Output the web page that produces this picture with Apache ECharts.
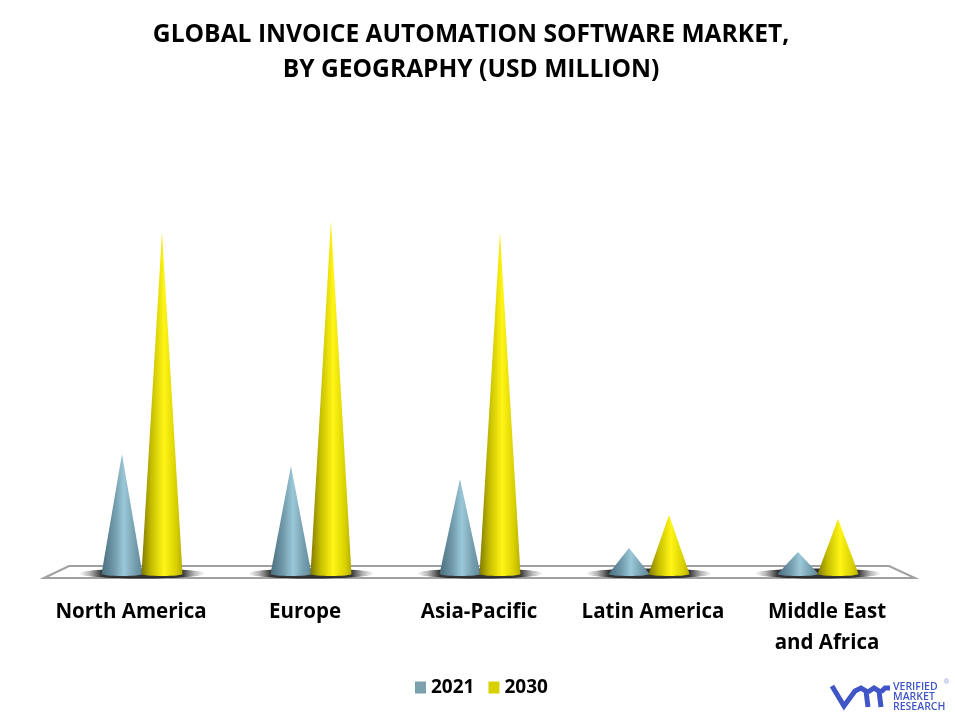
<!DOCTYPE html>
<html>
<head>
<meta charset="utf-8">
<title>Global Invoice Automation Software Market</title>
<script src="https://cdn.jsdelivr.net/npm/echarts@6/dist/echarts.min.js"></script>
<style>
html, body { margin: 0; padding: 0; background: #fff; }
#main { width: 955px; height: 718px; }
</style>
</head>
<body>
<div id="main"></div>
<script>
var categories = ['North America', 'Europe', 'Asia-Pacific', 'Latin America', 'Middle East\nand Africa'];
var values2021 = [120, 108, 95, 26, 22];
var values2030 = [342, 353, 342, 59, 55];

var myChart = echarts.init(document.getElementById('main'));

var FONT = '"Open Sans", "Noto Sans", sans-serif';
var CONE_OFFSET = 20;
var CONE_RADIUS = 20.5;

function coneFill(stops) {
    return new echarts.graphic.LinearGradient(0, 0, 1, 0, stops);
}
var blueFill = coneFill([
    { offset: 0, color: '#4a6e7e' },
    { offset: 0.3, color: '#6f98a8' },
    { offset: 0.55, color: '#9bc8d8' },
    { offset: 0.8, color: '#76a0b0' },
    { offset: 1, color: '#5f8797' }
]);
var yellowFill = coneFill([
    { offset: 0, color: '#7f7900' },
    { offset: 0.25, color: '#c8c000' },
    { offset: 0.55, color: '#fff516' },
    { offset: 0.85, color: '#d8d000' },
    { offset: 1, color: '#b5ad00' }
]);

// one cone: tip at the value, flat ellipse as base
function coneItem(offset, fill) {
    return function(params, api) {
        var base = api.coord([api.value(0), 0]);
        var tip = api.coord([api.value(0), api.value(1)]);
        var cx = base[0] + offset;
        var pts = [[cx, tip[1]]];
        for (var i = 0; i <= 16; i++) {
            var a = Math.PI * i / 16;
            pts.push([cx - CONE_RADIUS * Math.cos(a), base[1] + 2 * Math.sin(a)]);
        }
        return {
            type: 'polygon',
            shape: { points: pts },
            style: { fill: fill }
        };
    };
}

// soft shadow under each pair of cones
function shadowItem(params, api) {
    var base = api.coord([api.value(0), 0]);
    return {
        type: 'ellipse',
        shape: { cx: base[0], cy: base[1] - 0.5, rx: 63, ry: 5 },
        style: {
            fill: new echarts.graphic.LinearGradient(0, 0, 1, 0, [
                { offset: 0, color: 'rgba(60,60,60,0)' },
                { offset: 0.08, color: 'rgba(60,60,60,0.35)' },
                { offset: 0.18, color: 'rgba(30,30,30,0.9)' },
                { offset: 0.82, color: 'rgba(30,30,30,0.9)' },
                { offset: 0.92, color: 'rgba(60,60,60,0.35)' },
                { offset: 1, color: 'rgba(60,60,60,0)' }
            ])
        }
    };
}

// the flat floor, sized from the label grid
function floorItem(params) {
    var c = params.coordSys;
    var front = c.y + c.height;
    return {
        type: 'polygon',
        shape: {
            points: [
                [c.x, front],
                [c.x + 25, front - 12],
                [c.x + c.width - 25, front - 12],
                [c.x + c.width + 1, front]
            ]
        },
        style: { fill: '#fff', stroke: '#a0a0a0', lineWidth: 2 }
    };
}

var option = {
    backgroundColor: '#fff',
    animation: false,
    title: {
        text: 'GLOBAL INVOICE AUTOMATION SOFTWARE MARKET,\nBY GEOGRAPHY (USD MILLION)',
        left: 466,
        top: 12,
        textAlign: 'center',
        textStyle: {
            fontFamily: FONT,
            fontWeight: 'bold',
            fontSize: 24.6,
            lineHeight: 35,
            color: '#000'
        }
    },
    legend: {
        data: ['2021', '2030'],
        icon: 'rect',
        left: 410,
        top: 673,
        itemWidth: 11,
        itemHeight: 12,
        itemGap: 14,
        textStyle: {
            fontFamily: FONT,
            fontWeight: 'bold',
            fontSize: 19,
            color: '#000'
        }
    },
    grid: [
        { left: 57.5, width: 845, top: 174, height: 400 },
        { left: 44, width: 870, top: 174, height: 404 }
    ],
    xAxis: [{
        type: 'category',
        gridIndex: 0,
        data: categories,
        axisLine: { show: false },
        axisTick: { show: false },
        axisLabel: { show: false }
    }, {
        type: 'category',
        gridIndex: 1,
        data: categories,
        axisLine: { show: false },
        axisTick: { show: false },
        axisLabel: {
            interval: 0,
            margin: 19,
            fontFamily: FONT,
            fontWeight: 'bold',
            fontSize: 20.5,
            lineHeight: 31,
            color: '#000'
        }
    }],
    yAxis: [{
        type: 'value',
        gridIndex: 0,
        min: 0,
        max: 400,
        show: false
    }, {
        type: 'value',
        gridIndex: 1,
        min: 0,
        max: 400,
        show: false
    }],
    series: [{
        type: 'custom',
        name: 'floor',
        xAxisIndex: 1,
        yAxisIndex: 1,
        renderItem: floorItem,
        data: [[0, 0]],
        silent: true,
        z: 1
    }, {
        type: 'custom',
        name: 'shadow',
        renderItem: shadowItem,
        data: categories.map(function(c, i) { return [i, 0]; }),
        silent: true,
        z: 2
    }, {
        type: 'custom',
        name: '2021',
        renderItem: coneItem(-CONE_OFFSET, blueFill),
        encode: { x: 0, y: 1 },
        data: values2021.map(function(v, i) { return [i, v]; }),
        itemStyle: { color: '#7ba0ae' },
        z: 3
    }, {
        type: 'custom',
        name: '2030',
        renderItem: coneItem(CONE_OFFSET, yellowFill),
        encode: { x: 0, y: 1 },
        data: values2030.map(function(v, i) { return [i, v]; }),
        itemStyle: { color: '#d8d000' },
        z: 4
    }],
    graphic: [{
        type: 'polyline',
        shape: { points: [[832, 686], [844, 706], [855, 691], [861, 688], [866, 691], [868, 707]] },
        style: { stroke: '#3f55c8', lineWidth: 5, fill: null }
    }, {
        type: 'polyline',
        shape: { points: [[868, 692], [874, 688], [879, 691], [881, 707]] },
        style: { stroke: '#3f55c8', lineWidth: 5, fill: null }
    }, {
        type: 'polyline',
        shape: { points: [[881, 692], [885, 688], [890, 688]] },
        style: { stroke: '#3f55c8', lineWidth: 5, fill: null }
    }, {
        type: 'text',
        left: 893,
        top: 682,
        style: {
            text: 'VERIFIED\nMARKET\nRESEARCH',
            fontFamily: '"Open Sans", sans-serif',
            fontSize: 10.5,
            fontWeight: 600,
            lineHeight: 9.7,
            fill: '#3f55c8'
        }
    }, {
        type: 'text',
        left: 944,
        top: 679,
        style: { text: '®', fontSize: 7, fill: '#8a96d8' }
    }]
};

myChart.setOption(option, true);

window.addEventListener('resize', function() {
    myChart.resize();
});
</script>
</body>
</html>
